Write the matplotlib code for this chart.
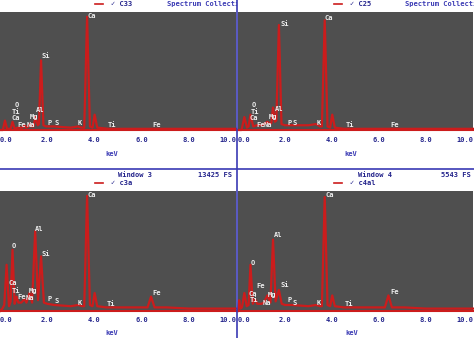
import matplotlib
matplotlib.use("Agg")
from matplotlib import pyplot as plt
from matplotlib.transforms import Bbox, TransformedBbox

plt.rcParams['font.family'] = ['DejaVu Sans Mono', 'DejaVu Sans']
plt.rcParams['font.size'] = 5

# spectrum traces: energy (keV) and counts as a fraction of full scale
e_c33 = [0, 0.12, 0.21, 0.30, 0.45, 0.53, 0.62, 0.75, 0.95, 1.04, 1.12, 1.20, 1.26, 1.33,
         1.42, 1.50, 1.60, 1.65, 1.74, 1.84, 1.95, 2.3, 3.0, 3.31, 3.45, 3.57, 3.69, 3.81,
         3.92, 4.01, 4.12, 4.6, 6.4, 10]
n_c33 = [0, 0.0, 0.08, 0.01, 0.01, 0.07, 0.01, 0.02, 0.02, 0.04, 0.02, 0.03, 0.05, 0.03,
         0.03, 0.11, 0.04, 0.05, 0.59, 0.04, 0.03, 0.03, 0.02, 0.03, 0.02, 0.02, 0.96, 0.03,
         0.02, 0.13, 0.02, 0.01, 0.01, 0.01]

e_c25 = [0, 0.15, 0.27, 0.38, 0.45, 0.53, 0.65, 0.8, 1.0, 1.1, 1.25, 1.35, 1.42, 1.49,
         1.57, 1.63, 1.74, 1.85, 2.0, 2.3, 2.6, 3.0, 3.31, 3.5, 3.57, 3.69, 3.81, 3.92,
         4.01, 4.12, 4.5, 6.4, 10]
n_c25 = [0, 0.0, 0.11, 0.02, 0.03, 0.13, 0.03, 0.04, 0.04, 0.05, 0.07, 0.05, 0.06, 0.19,
         0.07, 0.08, 0.89, 0.05, 0.04, 0.04, 0.04, 0.04, 0.05, 0.03, 0.03, 0.93, 0.03, 0.02,
         0.13, 0.02, 0.01, 0.01, 0.01]

e_c3a = [0, 0.1, 0.18, 0.28, 0.38, 0.45, 0.53, 0.62, 0.70, 0.78, 0.9, 1.04, 1.12, 1.25,
         1.36, 1.49, 1.61, 1.74, 1.86, 2.0, 2.3, 3.0, 3.31, 3.5, 3.57, 3.69, 3.81, 3.92,
         4.01, 4.12, 4.5, 5.5, 6.25, 6.4, 6.55, 7.06, 8, 10]
n_c3a = [0, 0.02, 0.05, 0.385, 0.04, 0.08, 0.51, 0.06, 0.12, 0.07, 0.07, 0.10, 0.07, 0.15,
         0.07, 0.665, 0.09, 0.455, 0.07, 0.06, 0.05, 0.04, 0.05, 0.04, 0.04, 0.96, 0.05, 0.04,
         0.15, 0.04, 0.03, 0.03, 0.03, 0.12, 0.03, 0.03, 0.02, 0.02]

e_c4al = [0, 0.05, 0.1, 0.17, 0.27, 0.37, 0.45, 0.53, 0.63, 0.72, 0.82, 1.0, 1.1, 1.25,
          1.38, 1.49, 1.60, 1.74, 1.86, 2.0, 2.3, 3.0, 3.31, 3.5, 3.57, 3.69, 3.81, 3.92,
          4.01, 4.12, 4.5, 5.5, 6.25, 6.4, 6.55, 7.06, 8, 10]
n_c4al = [0, 0.09, 0.02, 0.03, 0.15, 0.04, 0.05, 0.385, 0.06, 0.10, 0.06, 0.06, 0.07, 0.13,
          0.07, 0.595, 0.08, 0.176, 0.06, 0.05, 0.05, 0.04, 0.05, 0.04, 0.04, 0.95, 0.05, 0.04,
          0.13, 0.04, 0.03, 0.03, 0.03, 0.13, 0.03, 0.03, 0.02, 0.02]

# element markers: (symbol, keV, height)
lab_c33 = [('O', 0.64, 0.21), ('Ti', 0.51, 0.15), ('Ca', 0.47, 0.10), ('Fe', 0.72, 0.04),
           ('Na', 1.14, 0.04), ('Mg', 1.27, 0.11), ('Al', 1.53, 0.17), ('Si', 1.74, 0.63),
           ('P', 2.03, 0.06), ('S', 2.29, 0.06), ('K', 3.31, 0.06), ('Ca', 3.69, 0.97),
           ('Ti', 4.55, 0.04), ('Fe', 6.44, 0.04)]
lab_c25 = [('O', 0.60, 0.21), ('Ti', 0.55, 0.15), ('Ca', 0.47, 0.10), ('Fe', 0.77, 0.04),
           ('Na', 1.10, 0.04), ('Mg', 1.32, 0.11), ('Al', 1.57, 0.18), ('Si', 1.79, 0.90),
           ('P', 2.09, 0.06), ('S', 2.34, 0.06), ('K', 3.36, 0.06), ('Ca', 3.70, 0.95),
           ('Ti', 4.60, 0.04), ('Fe', 6.50, 0.04)]
lab_c3a = [('Ca', 0.34, 0.23), ('Ti', 0.51, 0.17), ('Fe', 0.72, 0.12), ('Na', 1.10, 0.11),
           ('Mg', 1.23, 0.165), ('O', 0.51, 0.54), ('Al', 1.48, 0.685), ('Si', 1.74, 0.475),
           ('P', 2.03, 0.10), ('S', 2.29, 0.08), ('K', 3.31, 0.065), ('Ca', 3.69, 0.97),
           ('Ti', 4.53, 0.056), ('Fe', 6.44, 0.15)]
lab_c4al = [('O', 0.55, 0.40), ('Fe', 0.77, 0.21), ('Ca', 0.43, 0.14), ('Ti', 0.51, 0.09),
            ('Na', 1.06, 0.065), ('Mg', 1.28, 0.13), ('Al', 1.53, 0.63), ('Si', 1.79, 0.215),
            ('P', 2.09, 0.09), ('S', 2.34, 0.07), ('K', 3.36, 0.065), ('Ca', 3.74, 0.97),
            ('Ti', 4.55, 0.056), ('Fe', 6.50, 0.155)]

ticks = [0, 2, 4, 6, 8, 10]
tick_labels = ['0.0', '2.0', '4.0', '6.0', '8.0', '10.0']

W, H = 474, 338
RED = '#cc1c1c'
GRAY = '#4f4f4f'
NAVY = '#24248c'
BLUE = '#3a3ab4'

fig = plt.figure(figsize=(W / 100, H / 100), dpi=100)
fig.patch.set_facecolor('white')


def px_axes(l, t, r, b):
    return fig.add_axes([l / W, 1 - b / H, (r - l) / W, (b - t) / H])


def spectrum(box, energy, counts, labels, pad):
    ax = px_axes(*box)
    ax.set_facecolor(GRAY)
    ax.plot(energy, counts, color=RED, lw=1.6, clip_on=False, zorder=3)
    for name, x, y in labels:
        ax.text(x, y, name, color='#eeeeee', fontweight='bold', ha='left', va='center', zorder=4)
    ax.set_xlim(0, 10)
    ax.set_ylim(0, 1)
    ax.set_yticks([])
    ax.set_xticks(ticks)
    ax.set_xticklabels(tick_labels, color=NAVY, fontweight='bold')
    ax.tick_params(axis='x', length=0, pad=pad)
    lbls = ax.get_xticklabels()
    lbls[0].set_ha('left')
    lbls[-1].set_ha('right')
    for side in ['top', 'left', 'right']:
        ax.spines[side].set_visible(False)
    ax.spines['bottom'].set_color(RED)
    ax.spines['bottom'].set_linewidth(1.5)
    return ax


spectrum((0, 12, 236, 130), e_c33, n_c33, lab_c33, 5)
spectrum((238, 12, 473, 130), e_c25, n_c25, lab_c25, 5)
spectrum((0, 191, 236, 311), e_c3a, n_c3a, lab_c3a, 4.5)
spectrum((238, 191, 473, 311), e_c4al, n_c4al, lab_c4al, 4.5)

# overlay in pixel units for headers and window borders
ov = fig.add_axes([0, 0, 1, 1], zorder=5)
ov.set_xlim(0, W)
ov.set_ylim(H, 0)
ov.axis('off')

ov.plot([237, 237], [0, H], color=BLUE, lw=1.2)
ov.plot([0, W], [169, 169], color=BLUE, lw=1.2)

txt = dict(fontweight='bold', va='center')

# legend rows
for x0, y0, name in [(95, 4, 'C33'), (334, 4, 'C25'), (95, 183, 'c3a'), (334, 183, 'c4al')]:
    ov.plot([x0, x0 + 8], [y0, y0], color=RED, lw=1.2)
    ov.text(x0 + 16, y0, '✓ ' + name, color=NAVY, ha='left', **txt)

# header texts, clipped to their own window
for x0, clip in [(167, (0, 0, 237, 169)), (405, (237, 0, W, 169))]:
    t = ov.text(x0, 4, 'Spectrum Collection', color=BLUE, ha='left', **txt)
    t.set_clip_box(TransformedBbox(Bbox.from_extents(*clip), ov.transData))
    t.set_clip_on(True)

ov.text(118, 175, 'Window 3', color=NAVY, ha='left', **txt)
ov.text(232, 175, '13425 FS', color=NAVY, ha='right', **txt)
ov.text(358, 175, 'Window 4', color=NAVY, ha='left', **txt)
ov.text(471, 175, '5543 FS', color=NAVY, ha='right', **txt)

for x0, y0 in [(112, 154), (351, 154), (112, 333), (352, 333)]:
    ov.text(x0, y0, 'keV', color=BLUE, ha='center', **txt)

fig.savefig('out.png', dpi=100)
